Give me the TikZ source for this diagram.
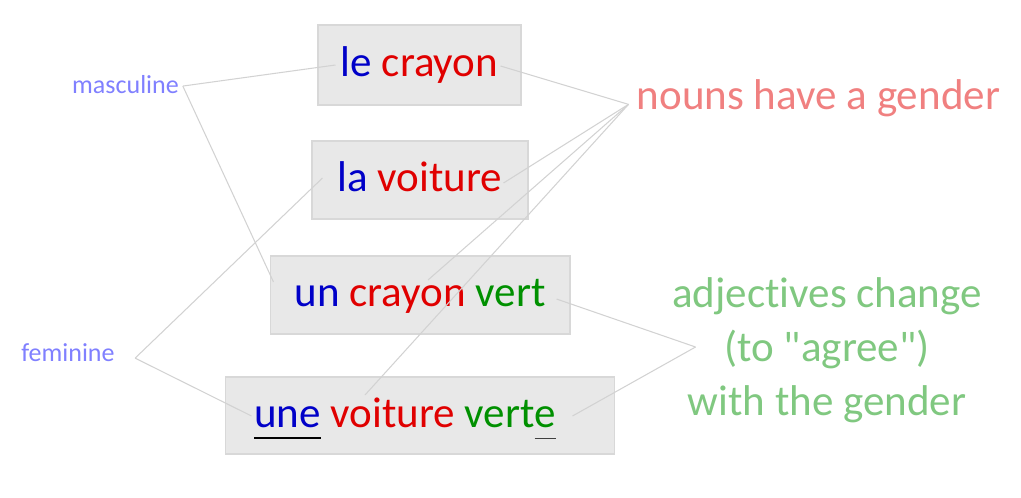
\documentclass[tikz,border=0pt]{standalone}
\usepackage{fontspec}
\setmainfont{Carlito}[Ligatures={TeX,NoCommon,NoContextual},Contextuals=NoAlternate]
\usepackage{xcolor}
\usepackage{tikz}
\usetikzlibrary{positioning}
\definecolor{artblue}{HTML}{0000C8}
\definecolor{nomred}{HTML}{E00000}
\definecolor{adjgreen}{HTML}{009000}
\definecolor{boxgray}{HTML}{E8E8E8}
\definecolor{boxline}{HTML}{D8D8D8}
\definecolor{linkgray}{HTML}{D2D2D2}
\definecolor{lblblue}{HTML}{8080FF}
\definecolor{nounred}{HTML}{F08080}
\definecolor{agreegreen}{HTML}{80C880}
\newcommand{\art}[1]{\textcolor{artblue}{#1}}
\newcommand{\nom}[1]{\textcolor{nomred}{#1}}
\newcommand{\adj}[1]{\textcolor{adjgreen}{#1}}
\newcommand{\undl}[3]{\setbox0\hbox{#3}\rlap{\textcolor{#1}{\rule[-6.5pt]{\wd0}{#2}}}\box0}
\tikzset{every picture/.style={line width=0.6pt}}

\begin{document}
\begin{tikzpicture}[x=0.02cm,y=-0.02cm,
    box/.style={fill=boxgray,draw=boxline,font=\fontsize{24.5}{29}\selectfont,
        text height=17pt,text depth=3.4pt,inner sep=0pt},
    lbl/.style={font=\fontsize{14.8}{17}\selectfont,text=lblblue,inner sep=2pt},
    link/.style={draw=linkgray}]
\useasboundingbox (0,0) rectangle (1021,497);
\node[box,minimum width=4.06cm,minimum height=1.6cm] (b1) at (419.5,65) {\art{le} \nom{crayon}};
\node[box,minimum width=4.32cm,minimum height=1.56cm] (b2) at (420,180) {\art{la} \nom{voiture}};
\node[box,minimum width=6cm,minimum height=1.56cm] (b3) at (420,295) {\art{un} \nom{crayon} \adj{vert}};
\node[box,minimum width=7.8cm,minimum height=1.54cm] (b4) at (420,415.5)
    {\art{\undl{black}{1.1pt}{une}} \nom{voiture} \adj{vert\undl{black!75}{0.6pt}{e}}\hspace*{0.6cm}};
%
\node[lbl,anchor=base] (masc) at (125.5,93) {masculine};
\node[lbl,anchor=base,inner xsep=0.4cm] (fem) at (68,361) {feminine};
\node[anchor=base,inner sep=4.5pt,text=nounred,font=\fontsize{24.5}{29}\selectfont] (noun) at (818.5,109) {nouns have a gender};
\node[align=center,inner sep=0pt,text=agreegreen,font=\fontsize{24.5}{30.6}\selectfont] (adj) at (827,350.5)
    {adjectives change\\(to \textquotedbl agree\textquotedbl)\\with the gender};
%
\coordinate (mhub) at ([shift={(0,2)}]masc.east);
\coordinate (fhub) at ([shift={(0,6)}]fem.east);
\coordinate (nhub) at ([shift={(0,6.6)}]noun.west);
\coordinate (ahub) at ([shift={(24,-3.5)}]adj.west);
\coordinate (b1l) at ([shift={(18,0)}]b1.west);
\coordinate (b1r) at ([shift={(-21,1)}]b1.east);
\coordinate (b2l) at ([shift={(11,-2)}]b2.west);
\coordinate (b2r) at ([shift={(-25,3)}]b2.east);
\coordinate (b3l) at ([shift={(4,-13)}]b3.west);
\coordinate (b3t) at ([shift={(8,-15)}]b3.center);
\coordinate (b3r) at ([shift={(-14,4)}]b3.east);
\coordinate (b4l) at ([shift={(27,0.5)}]b4.west);
\coordinate (b4t) at ([shift={(-55,-20.5)}]b4.center);
\coordinate (b4r) at ([shift={(-43,0.5)}]b4.east);
%
\foreach \Source/\Target in {%
        mhub/b1l, mhub/b3l,
        fhub/b2l, fhub/b4l,
        nhub/b1r, nhub/b2r, nhub/b3t, nhub/b4t,
        ahub/b3r, ahub/b4r%
    }
\draw[link] (\Source) to (\Target);
\end{tikzpicture}
\end{document}
